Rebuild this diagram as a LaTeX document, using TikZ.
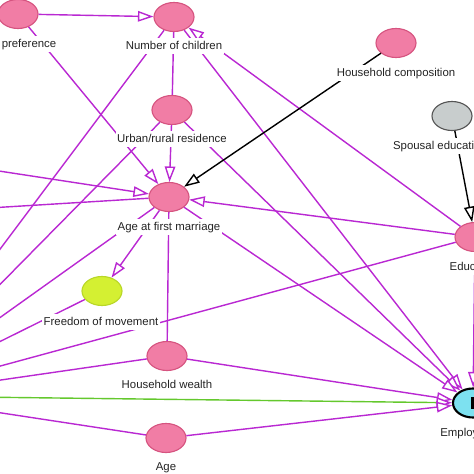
\documentclass[tikz,border=0pt]{standalone}
\usepackage{fontspec}
\setmainfont{Liberation Sans}
\usetikzlibrary{arrows.meta,shapes.geometric}
\definecolor{dagpink}{RGB}{241,125,165}
\definecolor{dagpinkline}{RGB}{214,84,128}
\definecolor{dagedge}{RGB}{185,40,210}
\definecolor{daggreen}{RGB}{100,200,45}
\definecolor{dagexpo}{RGB}{212,240,50}
\definecolor{dagexpoline}{RGB}{185,215,40}
\definecolor{dagout}{RGB}{125,225,240}
\definecolor{daggrey}{RGB}{200,205,205}
\definecolor{dagdark}{RGB}{85,85,85}
\definecolor{dagtext}{RGB}{35,35,35}

\begin{document}
\begin{tikzpicture}[x=0.025cm,y=-0.025cm,
    var/.style={ellipse, draw=dagpinkline, fill=dagpink, line width=0.8pt,
        minimum width=1cm, minimum height=0.725cm, inner sep=0pt},
    lbl/.style={fill=white, text=dagtext, inner xsep=1pt, inner ysep=2pt,
        text height=6pt, text depth=1.7pt, font=\fontsize{8.1}{9}\selectfont},
    edge/.style={draw=dagedge, line width=1pt, -{Triangle[length=11pt,width=7.5pt,fill=white]}},
    link/.style={draw=dagedge, line width=1pt},
    blackedge/.style={draw=black, line width=1pt, -{Triangle[length=11pt,width=7.5pt,fill=white]}},
    causal/.style={draw=daggreen, line width=1pt, -{Triangle[length=11pt,width=7.5pt,fill=white,color=dagedge]}}]
    \useasboundingbox (0,0) rectangle (474,474);
    \clip (0,0) rectangle (474,474);
    \node [var] (pref) at (18,14) {};
    \node [var] (nchild) at (174,17) {};
    \node [var] (urban) at (172,110) {};
    \node [var] (hcomp) at (396,43) {};
    \node [var, draw=dagdark, fill=daggrey] (spedu) at (452,116) {};
    \node [var] (afm) at (169,197) {};
    \node [var] (edu) at (475,237) {};
    \node [var, draw=dagexpoline, fill=dagexpo] (freedom) at (102,291) {};
    \node [var] (wealth) at (167,356) {};
    \node [var] (age) at (166,438) {};
    \node [var, draw=black, fill=dagout, line width=1.5pt] (employ) at (473,403) {};
    \fill [black] (471,397) rectangle (481,409);
    \coordinate (hidden) at (-110,396);
    \coordinate (leftin) at (-60,162);
    \coordinate (leftout) at (-60,211);
    \draw [edge] (pref) -- (nchild);
    \draw [edge] (pref) -- (afm);
    \draw [link] (nchild) -- (urban);
    \draw [edge] (nchild) -- (employ);
    \draw [edge] (nchild) -- (hidden);
    \draw [edge] (edu) -- (nchild);
    \draw [edge] (urban) -- (afm);
    \draw [edge] (urban) -- (employ);
    \draw [edge] (urban) -- (hidden);
    \draw [blackedge] (hcomp) -- (afm);
    \draw [edge] (leftin) -- (afm);
    \draw [edge] (afm) -- (leftout);
    \draw [edge] (edu) -- (afm);
    \draw [edge] (afm) -- (freedom);
    \draw [edge] (afm) -- (hidden);
    \draw [link] (afm) -- (wealth);
    \draw [edge] (afm) -- (employ);
    \draw [edge] (freedom) -- (hidden);
    \draw [edge] (edu) -- (hidden);
    \draw [edge] (edu) -- (employ);
    \draw [blackedge] (spedu) -- (edu);
    \draw [edge] (wealth) -- (employ);
    \draw [edge] (wealth) -- (hidden);
    \draw [causal] (hidden) -- (employ);
    \draw [edge] (age) -- (employ);
    \draw [edge] (age) -- (hidden);
    \node [lbl] (pref-lbl) at (29,44) {preference};
    \node [lbl] (nchild-lbl) at (174,46) {Number of children};
    \node [lbl] (urban-lbl) at (172,139) {Urban/rural residence};
    \node [lbl] (hcomp-lbl) at (396,73) {Household composition};
    \node [lbl] (spedu-lbl) at (440,146) {Spousal education};
    \node [lbl] (afm-lbl) at (169,227) {Age at first marriage};
    \node [lbl] (edu-lbl) at (475,267) {Education};
    \node [lbl] (freedom-lbl) at (101,322) {Freedom of movement};
    \node [lbl] (wealth-lbl) at (167,385) {Household wealth};
    \node [lbl] (age-lbl) at (166,467) {Age};
    \node [lbl] (employ-lbl) at (472,433) {Employment};
\end{tikzpicture}
\end{document}
